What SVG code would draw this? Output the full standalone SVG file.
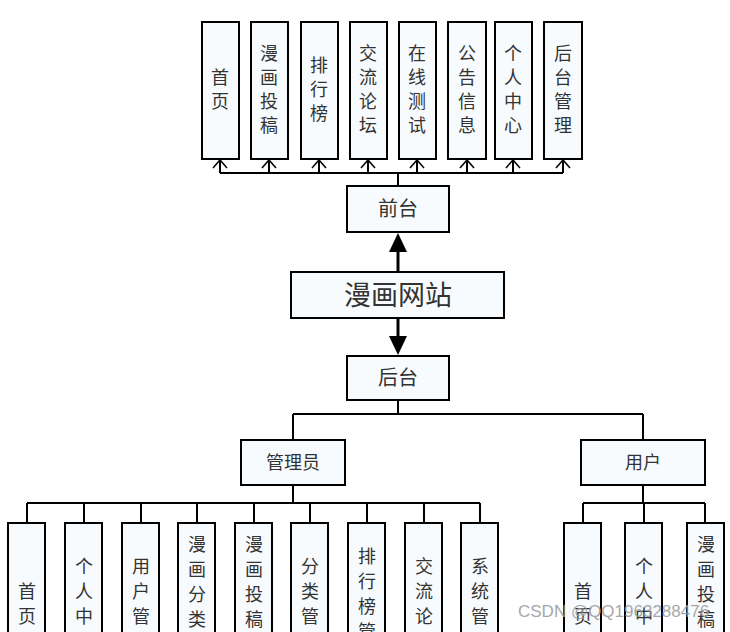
<svg xmlns="http://www.w3.org/2000/svg" width="730" height="632" viewBox="0 0 730 632">
<style>
.b{fill:#f8fbfe;stroke:#000;stroke-width:2}
.t{font-family:"Noto Sans CJK SC","Liberation Sans",sans-serif;font-size:18px;fill:#333;text-anchor:middle}
.l{fill:none;stroke:#000;stroke-width:2}
.a{fill:none;stroke:#000;stroke-width:1.5}
</style>
<rect width="730" height="632" fill="#fff"/>
<g id="connectors">
<path class="l" d="M398,186 V173 M220,173 H563 M220,173 V160 M269,173 V160 M319,173 V160 M368,173 V160 M417,173 V160 M467,173 V160 M513,173 V160 M563,173 V160"/>
<path class="a" d="M213,168 L220,160 L227,168 M262,168 L269,160 L276,168 M312,168 L319,160 L326,168 M361,168 L368,160 L375,168 M410,168 L417,160 L424,168 M460,168 L467,160 L474,168 M506,168 L513,160 L520,168 M556,168 L563,160 L570,168"/>
<path d="M398,272 V250" stroke="#000" stroke-width="3"/><path d="M389,252 L398,233 L407,252 Z" fill="#000"/>
<path d="M398,318 V338" stroke="#000" stroke-width="3"/><path d="M389,336 L398,355 L407,336 Z" fill="#000"/>
<path class="l" d="M398,400 V414 M293,414 H643 M293,414 V440 M643,414 V440"/>
<path class="l" d="M293,485 V503 M27,503 H480 M27,503 V523 M84,503 V523 M141,503 V523 M197,503 V523 M254,503 V523 M310,503 V523 M367,503 V523 M424,503 V523 M480,503 V523"/>
<path class="l" d="M643,485 V503 M583,503 H705 M583,503 V523 M644,503 V523 M705,503 V523"/>
</g>
<g id="n-home"><rect class="b" x="202" y="22" width="37" height="137"/><text class="t"><tspan x="220" y="84">首</tspan><tspan x="220" y="108">页</tspan></text></g>
<g id="n-tougao"><rect class="b" x="251" y="22" width="37" height="137"/><text class="t"><tspan x="269" y="60">漫</tspan><tspan x="269" y="84">画</tspan><tspan x="269" y="108">投</tspan><tspan x="269" y="132">稿</tspan></text></g>
<g id="n-rank"><rect class="b" x="301" y="22" width="37" height="137"/><text class="t"><tspan x="319" y="72">排</tspan><tspan x="319" y="96">行</tspan><tspan x="319" y="120">榜</tspan></text></g>
<g id="n-forum"><rect class="b" x="350" y="22" width="37" height="137"/><text class="t"><tspan x="368" y="60">交</tspan><tspan x="368" y="84">流</tspan><tspan x="368" y="108">论</tspan><tspan x="368" y="132">坛</tspan></text></g>
<g id="n-test"><rect class="b" x="399" y="22" width="37" height="137"/><text class="t"><tspan x="417" y="60">在</tspan><tspan x="417" y="84">线</tspan><tspan x="417" y="108">测</tspan><tspan x="417" y="132">试</tspan></text></g>
<g id="n-notice"><rect class="b" x="448" y="22" width="38" height="137"/><text class="t"><tspan x="467" y="60">公</tspan><tspan x="467" y="84">告</tspan><tspan x="467" y="108">信</tspan><tspan x="467" y="132">息</tspan></text></g>
<g id="n-center"><rect class="b" x="495" y="22" width="37" height="137"/><text class="t"><tspan x="513" y="60">个</tspan><tspan x="513" y="84">人</tspan><tspan x="513" y="108">中</tspan><tspan x="513" y="132">心</tspan></text></g>
<g id="n-admin"><rect class="b" x="544" y="22" width="38" height="137"/><text class="t"><tspan x="563" y="60">后</tspan><tspan x="563" y="84">台</tspan><tspan x="563" y="108">管</tspan><tspan x="563" y="132">理</tspan></text></g>
<g id="n-front"><rect class="b" x="347" y="186" width="102" height="46"/><text class="t" x="398" y="216" style="font-size:20px">前台</text></g>
<g id="n-site"><rect class="b" x="291" y="272" width="213" height="46"/><text class="t" x="398" y="305" style="font-size:27px">漫画网站</text></g>
<g id="n-back"><rect class="b" x="347" y="356" width="102" height="44"/><text class="t" x="398" y="385" style="font-size:20px">后台</text></g>
<g id="n-manager"><rect class="b" x="241" y="440" width="104" height="45"/><text class="t" x="293" y="469">管理员</text></g>
<g id="n-user"><rect class="b" x="581" y="440" width="124" height="45"/><text class="t" x="643" y="469">用户</text></g>
<g id="m1"><rect class="b" x="8" y="523" width="37" height="150"/><text class="t"><tspan x="27" y="598">首</tspan><tspan x="27" y="623">页</tspan></text></g>
<g id="m2"><rect class="b" x="65" y="523" width="37" height="150"/><text class="t"><tspan x="84" y="573">个</tspan><tspan x="84" y="598">人</tspan><tspan x="84" y="623">中</tspan></text></g>
<g id="m3"><rect class="b" x="122" y="523" width="37" height="150"/><text class="t"><tspan x="141" y="573">用</tspan><tspan x="141" y="598">户</tspan><tspan x="141" y="623">管</tspan></text></g>
<g id="m4"><rect class="b" x="178" y="523" width="37" height="150"/><text class="t"><tspan x="197" y="551">漫</tspan><tspan x="197" y="576">画</tspan><tspan x="197" y="601">分</tspan><tspan x="197" y="626">类</tspan></text></g>
<g id="m5"><rect class="b" x="235" y="523" width="37" height="150"/><text class="t"><tspan x="254" y="551">漫</tspan><tspan x="254" y="576">画</tspan><tspan x="254" y="601">投</tspan><tspan x="254" y="626">稿</tspan></text></g>
<g id="m6"><rect class="b" x="291" y="523" width="37" height="150"/><text class="t"><tspan x="310" y="573">分</tspan><tspan x="310" y="598">类</tspan><tspan x="310" y="623">管</tspan></text></g>
<g id="m7"><rect class="b" x="348" y="523" width="37" height="150"/><text class="t"><tspan x="367" y="563">排</tspan><tspan x="367" y="588">行</tspan><tspan x="367" y="613">榜</tspan><tspan x="367" y="638">管</tspan></text></g>
<g id="m8"><rect class="b" x="405" y="523" width="37" height="150"/><text class="t"><tspan x="424" y="573">交</tspan><tspan x="424" y="598">流</tspan><tspan x="424" y="623">论</tspan></text></g>
<g id="m9"><rect class="b" x="461" y="523" width="37" height="150"/><text class="t"><tspan x="480" y="573">系</tspan><tspan x="480" y="598">统</tspan><tspan x="480" y="623">管</tspan></text></g>
<g id="u1"><rect class="b" x="564" y="523" width="37" height="150"/><text class="t"><tspan x="583" y="598">首</tspan><tspan x="583" y="623">页</tspan></text></g>
<g id="u2"><rect class="b" x="625" y="523" width="37" height="150"/><text class="t"><tspan x="644" y="573">个</tspan><tspan x="644" y="598">人</tspan><tspan x="644" y="623">中</tspan></text></g>
<g id="u3"><rect class="b" x="687" y="523" width="37" height="150"/><text class="t"><tspan x="706" y="551">漫</tspan><tspan x="706" y="576">画</tspan><tspan x="706" y="601">投</tspan><tspan x="706" y="626">稿</tspan></text></g>
<text x="518" y="617" style="font-family:'Liberation Sans',sans-serif;font-size:17px;fill:#999;opacity:0.85">CSDN @QQ1963288476</text>
</svg>
